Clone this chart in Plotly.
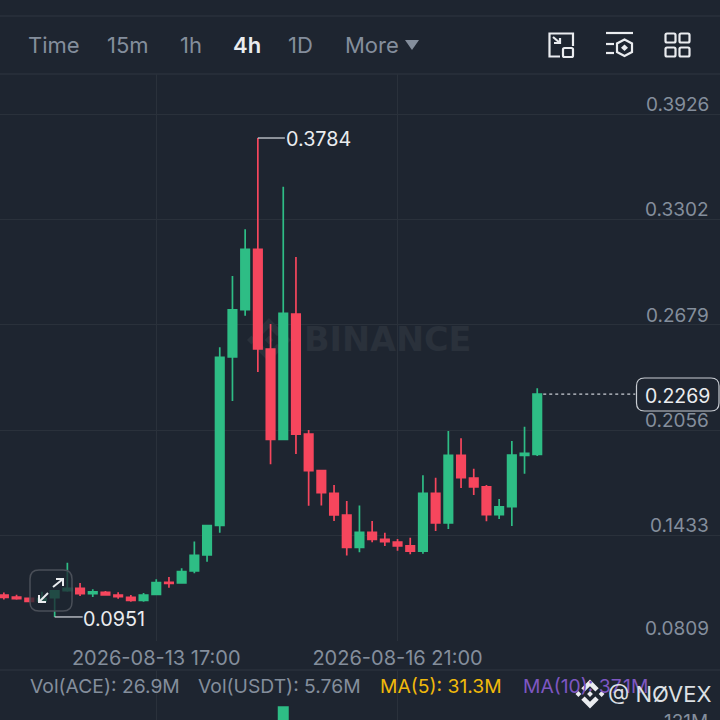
import pandas as pd
import plotly.graph_objects as go

# ---------- data ----------
times = pd.date_range("2026-08-11 17:00", periods=43, freq="4h")
opens = [.1081,.1069,.1061,.1045,.1065,.1106,.1120,.1089,.1097,.1081,.1067,.1049,
         .1085,.1156,.1152,.1223,.1318,.1493,.2489,.2768,.3126,.2536,.2002,.2743,
         .2033,.1816,.1682,.1554,.1363,.1452,.1410,.1394,.1371,.1341,.1682,.1507,
         .1907,.1773,.1721,.1556,.1603,.1907,.1913]
highs = [.1095,.1083,.1063,.1100,.1108,.1272,.1152,.1115,.1105,.1097,.1081,.1093,
         .1174,.1187,.1239,.1398,.1491,.2546,.2968,.3244,.3784,.2684,.3496,.3080,
         .2057,.1818,.1732,.1637,.1611,.1519,.1449,.1412,.1420,.1789,.1775,.2051,
         .2008,.1828,.1732,.1649,.1992,.2076,.2304]
lows = [.1055,.1053,.1040,.1041,.0951,.1100,.1075,.1069,.1077,.1059,.1041,.1041,
        .1085,.1124,.1152,.1209,.1278,.1449,.2228,.2733,.2400,.1854,.1998,.1915,
        .1609,.1611,.1519,.1314,.1334,.1393,.1371,.1343,.1322,.1325,.1459,.1471,
        .1714,.1672,.1517,.1530,.1489,.1798,.1903]
closes = [.1066,.1059,.1043,.1059,.1105,.1120,.1089,.1099,.1081,.1071,.1049,.1081,
          .1154,.1150,.1219,.1316,.1491,.2487,.2768,.3126,.2536,.2002,.2747,.2033,
          .1816,.1686,.1554,.1363,.1452,.1410,.1396,.1372,.1341,.1682,.1507,.1907,
          .1775,.1721,.1556,.1603,.1909,.1919,.2269]
price_ticks = [0.3926, 0.3302, 0.2679, 0.2056, 0.1433, 0.0809]
time_ticks = ["2026-08-13 17:00", "2026-08-16 21:00"]
vol_time = ["2026-08-15 09:00"]
vol_value = [146e6]
header_items = ["Time", "15m", "1h", "4h", "1D", "More"]
high_label, low_label, last_label = "0.3784", "0.0951", "0.2269"
vol_items = ["Vol(ACE): 26.9M", "Vol(USDT): 5.76M", "MA(5): 31.3M", "MA(10): 37.1M"]

# ---------- style ----------
BG = "#1E2530"
GRID = "#2A313B"
MUTED = "#848E9C"
WHITE = "#EAECEF"
UP = "#2EBD85"
DOWN = "#F6465D"
FONT = "Inter"


def X(p):
    return p / 720


def Y(p):
    return 1 - p / 720


def P(points, close=True):
    s = "M" + " L".join(f"{X(a):.5f},{Y(b):.5f}" for a, b in points)
    return s + (" Z" if close else "")


def logo(cx, cy, r):
    parts = []
    d = 0.2
    for ox, oy in [(0, 0), (-.8, 0), (.8, 0)]:
        parts.append([(cx + (ox) * r, cy + (oy - d) * r), (cx + (ox + d) * r, cy + oy * r),
                      (cx + ox * r, cy + (oy + d) * r), (cx + (ox - d) * r, cy + oy * r)])
    top = [(0, -1), (.6, -.4), (.37, -.17), (0, -.54), (-.37, -.17), (-.6, -.4)]
    parts.append([(cx + a * r, cy + b * r) for a, b in top])
    parts.append([(cx + a * r, cy - b * r) for a, b in top])
    return " ".join(P(p) for p in parts)


def rrect(x0, y0, x1, y1, rad):
    k = rad
    return (f"M{X(x0 + k):.5f},{Y(y0):.5f} L{X(x1 - k):.5f},{Y(y0):.5f} "
            f"Q{X(x1):.5f},{Y(y0):.5f} {X(x1):.5f},{Y(y0 + k):.5f} "
            f"L{X(x1):.5f},{Y(y1 - k):.5f} Q{X(x1):.5f},{Y(y1):.5f} {X(x1 - k):.5f},{Y(y1):.5f} "
            f"L{X(x0 + k):.5f},{Y(y1):.5f} Q{X(x0):.5f},{Y(y1):.5f} {X(x0):.5f},{Y(y1 - k):.5f} "
            f"L{X(x0):.5f},{Y(y0 + k):.5f} Q{X(x0):.5f},{Y(y0):.5f} {X(x0 + k):.5f},{Y(y0):.5f} Z")


def pshape(path, color=None, width=0, fill=None, layer="above"):
    return dict(type="path", xref="paper", yref="paper", path=path, layer=layer,
                line=dict(color=color or "rgba(0,0,0,0)", width=width),
                fillcolor=fill or "rgba(0,0,0,0)")


def note(text, x, y, size=22, color=MUTED, anchor="left", weight=400, family=FONT, vanchor="middle"):
    return dict(text=text, x=X(x), y=Y(y), xref="paper", yref="paper", showarrow=False,
                xanchor=anchor, yanchor=vanchor, align=anchor, borderpad=0,
                font=dict(family=family, size=size, color=color, weight=weight))


fig = go.Figure()
fig.add_trace(go.Candlestick(
    x=times, open=opens, high=highs, low=lows, close=closes,
    xaxis="x", yaxis="y", whiskerwidth=0, hoverinfo="skip",
    increasing=dict(line=dict(color=UP, width=1.7), fillcolor=UP),
    decreasing=dict(line=dict(color=DOWN, width=1.7), fillcolor=DOWN),
))
fig.add_trace(go.Bar(x=vol_time, y=vol_value, xaxis="x2", yaxis="y2", width=12472441,
                     marker=dict(color=UP, line=dict(width=0)), hoverinfo="skip"))

high_i = highs.index(max(highs))
low_i = lows.index(min(lows))
xrange = ["2026-08-11 15:47", "2026-08-21 02:34"]
shapes = [
    pshape(P([(0, 16), (720, 16)], False), GRID, 1.5),
    pshape(P([(0, 74), (720, 74)], False), GRID, 1.5),
    pshape(P([(0, 670), (720, 670)], False), GRID, 1.5),
    # dropdown triangle
    pshape(P([(405, 40), (419, 40), (412, 50)]), fill=MUTED),
    # watermark logo
    pshape(logo(269, 340, 22), fill="#2A313B", layer="below"),
    # header icon 1
    pshape(P([(573, 46), (573, 33.5), (549.5, 33.5), (549.5, 56.5), (560, 56.5)], False), WHITE, 2.2),
    pshape(rrect(563, 48, 573, 57, 1.5), WHITE, 2.2),
    pshape(P([(553, 37), (560, 43)], False), WHITE, 2.2),
    pshape(P([(554, 43), (560, 43), (560, 38)], False), WHITE, 2.2),
    # header icon 2
    pshape(P([(606, 33), (633, 33)], False), WHITE, 2.2),
    pshape(P([(606, 44), (614, 44)], False), WHITE, 2.2),
    pshape(P([(606, 53), (614, 53)], False), WHITE, 2.2),
    pshape(P([(624.5, 39.5), (632, 43.5), (632, 52), (624.5, 56), (617, 52), (617, 43.5)]), WHITE, 2.2),
    pshape(P([(624.5, 44.5), (628, 47.8), (624.5, 51), (621, 47.8)]), fill=WHITE),
    # header icon 3
    pshape(rrect(665.5, 33.5, 675.5, 42.5, 1.5), WHITE, 2.2),
    pshape(rrect(679.5, 33.5, 689.5, 42.5, 1.5), WHITE, 2.2),
    pshape(rrect(665.5, 47.5, 675.5, 56.5, 1.5), WHITE, 2.2),
    pshape(rrect(679.5, 47.5, 689.5, 56.5, 1.5), WHITE, 2.2),
    # expand button
    pshape(rrect(30, 570, 72, 611, 9), "#4A4F58", 1.5, "rgba(30,37,48,0.75)"),
    pshape(P([(53, 587), (63, 579)], False), WHITE, 2),
    pshape(P([(56, 579), (63, 579), (63, 586)], False), WHITE, 2),
    pshape(P([(48, 593), (39, 602)], False), WHITE, 2),
    pshape(P([(39, 595), (39, 602), (46, 602)], False), WHITE, 2),
    # last-price box
    pshape(rrect(636.5, 378, 719, 411, 8), "#C9CDD3", 1.2, BG),
    # footer logo
    pshape(logo(590, 694, 14.5), fill=WHITE),
    # high, low and last-price leaders
    dict(type="line", xref="x", yref="y", xsizemode="pixel", xanchor=times[high_i],
         x0=0, x1=27, y0=highs[high_i], y1=highs[high_i], line=dict(color="#C9CDD3", width=1.3)),
    dict(type="line", xref="x", yref="y", xsizemode="pixel", xanchor=times[low_i],
         x0=0, x1=28, y0=lows[low_i], y1=lows[low_i], line=dict(color="#C9CDD3", width=1.3)),
    dict(type="line", xref="x", yref="y", xsizemode="pixel", xanchor=times[42],
         x0=6, x1=98, y0=closes[42], y1=closes[42], line=dict(color="#C9CDD3", width=1.2, dash="3px,3px")),
]

header_x = [26.5, 106, 179, 232, 287, 344]
annotations = [note(t, x, 44.8, color=(WHITE if t == "4h" else MUTED), weight=(600 if t == "4h" else 400))
               for t, x in zip(header_items, header_x)]
annotations += [
    dict(text=f"{v:.4f}", x=X(710), y=v, xref="paper", yref="y", yshift=(12.5 if v == price_ticks[-1] else 9.5),
         showarrow=False, xanchor="right", yanchor="middle", borderpad=0,
         font=dict(family=FONT, size=19, color=MUTED))
    for v in price_ticks
]
annotations += [
    note("BINANCE", 303, 339, size=33.5, color="#2A313B", weight=700, family="DejaVu Sans"),
    note(high_label, 285, 139.5, size=19.8, color=WHITE),
    note(low_label, 82, 619, size=19.8, color=WHITE),
    note(last_label, 711, 395.5, size=19.5, color=WHITE, anchor="right"),
    note(vol_items[0], 29, 685.5, size=19.3),
    note(vol_items[1], 197, 685.5, size=19.3),
    note(vol_items[2], 379, 685.5, size=19.3, color="#F0B90B"),
    note(vol_items[3], 522, 685.5, size=19.3, color="#7E57C2"),
    note("@ NØVEX", 606.5, 694, size=22, color="#DDE0E4"),
    note("121M", 709, 709, size=19, anchor="right", vanchor="top"),
]

axis_font = dict(family=FONT, size=20, color=MUTED)
fig.update_layout(
    width=720, height=720, margin=dict(l=0, r=0, t=0, b=0),
    paper_bgcolor=BG, plot_bgcolor=BG, showlegend=False, boxgap=0.05,
    hovermode=False, font=dict(family=FONT),
    shapes=shapes, annotations=annotations,
    xaxis=dict(domain=[0, 1], anchor="y", range=xrange, rangeslider=dict(visible=False),
               type="date", tickmode="array", tickvals=time_ticks,
               ticktext=["2026-08-13 17:00", "2026-08-16 21:00"], ticks="", ticklabelstandoff=3,
               tickfont=axis_font, showgrid=True, gridcolor=GRID,
               gridwidth=1, zeroline=False, showline=False),
    yaxis=dict(domain=[Y(641), Y(74)], anchor="x", side="right", range=[0.08088, 0.41626],
               tickmode="array", tickvals=price_ticks, showticklabels=False, ticks="",
               showgrid=True, gridcolor=GRID, gridwidth=1, zeroline=False, showline=False),
    xaxis2=dict(domain=[0, 1], anchor="y2", range=xrange, type="date", tickmode="array",
                tickvals=time_ticks, showticklabels=False, ticks="", showgrid=True,
                gridcolor=GRID, gridwidth=1, zeroline=False, showline=False),
    yaxis2=dict(domain=[0, Y(670)], anchor="x2", range=[124e6, 204e6], showticklabels=False,
                ticks="", showgrid=False, zeroline=False, showline=False),
)

fig.write_html("out.html", config={"displayModeBar": False},
               post_script="document.body.style.margin='0';document.body.style.background='#1E2530';")
